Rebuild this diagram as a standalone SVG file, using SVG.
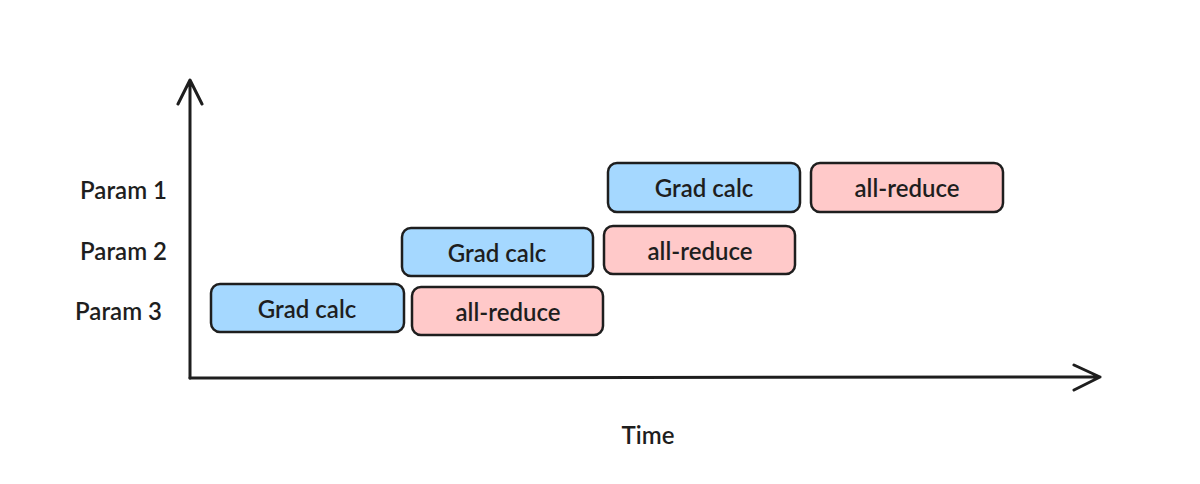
<svg xmlns="http://www.w3.org/2000/svg" width="1200" height="484" viewBox="0 0 1200 484">
<style>
.b{fill:#a5d8ff;stroke:#1e1e1e;stroke-width:2.5}
.p{fill:#ffc9c9;stroke:#1e1e1e;stroke-width:2.5}
text{font-family:"Lato","Liberation Sans",sans-serif;font-size:24px;font-weight:600;fill:#1e1e1e}
.c{text-anchor:middle;dominant-baseline:central}
.l{text-anchor:end;dominant-baseline:central}
.ax{fill:none;stroke:#1e1e1e;stroke-width:3;stroke-linecap:round;stroke-linejoin:round}
</style>
<rect width="1200" height="484" fill="#ffffff"/>
<g id="connectors">
<path class="ax" d="M190 378 L190 82 M178 104 L190 80 L202 104"/>
<path class="ax" d="M190 378 L1100 377 M1074 365 L1100 377 L1074 390"/>
</g>
<g id="labels">
<text class="l" x="167" y="189">Param 1</text>
<text class="l" x="167" y="250">Param 2</text>
<text class="l" x="162" y="310">Param 3</text>
<text class="c" x="648" y="434">Time</text>
</g>
<g id="n1"><rect class="b" x="608" y="163" width="192" height="49" rx="9"/><text class="c" x="704" y="187">Grad calc</text></g>
<g id="n2"><rect class="p" x="811" y="163" width="192" height="49" rx="9"/><text class="c" x="907" y="187">all-reduce</text></g>
<g id="n3"><rect class="b" x="402" y="228" width="191" height="48" rx="9"/><text class="c" x="497" y="252">Grad calc</text></g>
<g id="n4"><rect class="p" x="604" y="226" width="191" height="48" rx="9"/><text class="c" x="700" y="250">all-reduce</text></g>
<g id="n5"><rect class="b" x="211" y="284" width="193" height="48" rx="9"/><text class="c" x="307" y="308">Grad calc</text></g>
<g id="n6"><rect class="p" x="412" y="287" width="191" height="48" rx="9"/><text class="c" x="508" y="311">all-reduce</text></g>
</svg>
